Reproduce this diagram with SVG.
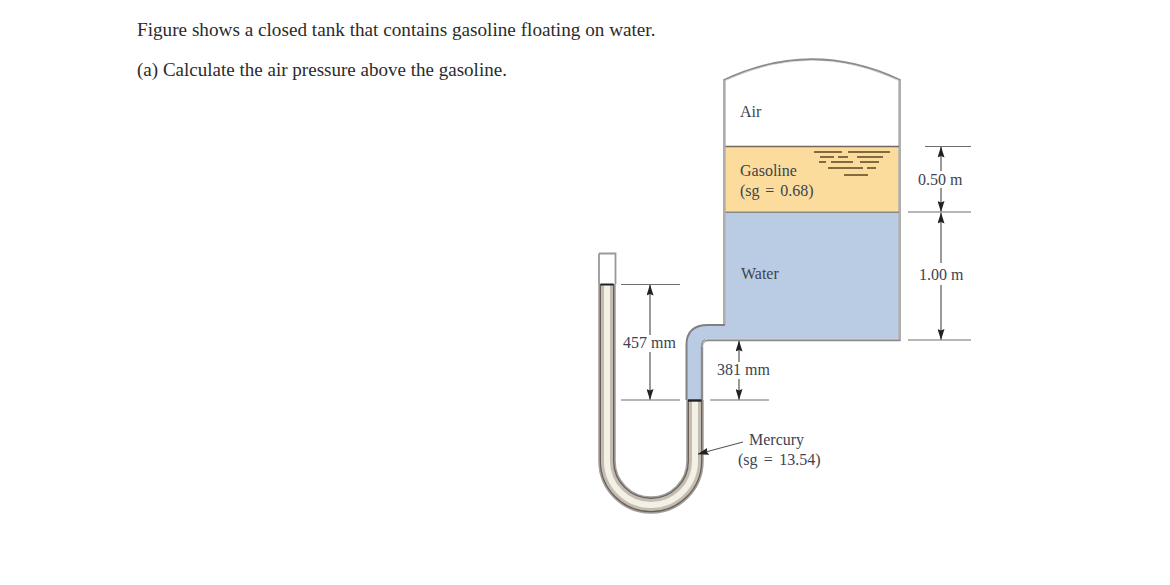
<svg xmlns="http://www.w3.org/2000/svg" width="1170" height="585" viewBox="0 0 1170 585">
<style>
.t{font-family:"Liberation Serif",serif;fill:#2b2b2b}
.q{font-size:19.2px}
.l{font-size:16px;fill:#3d4350}
.d{stroke:#6e6e6e;stroke-width:1.2;fill:none}
.a{stroke:#555;stroke-width:1.2;fill:none}
.g{stroke:#5a4522;stroke-width:1.3;fill:none}
.m{fill:none}
</style>
<defs>
<marker id="ah" viewBox="0 0 11 7" refX="10.500" refY="3.500" markerWidth="11" markerHeight="7" orient="auto" markerUnits="userSpaceOnUse"><path d="M0 0L11 3.500L0 7L1.500 3.500z" fill="#222"/></marker>
</defs>
<rect width="1170" height="585" fill="#fff"/>
<g id="problem-text">
<text class="t q" x="137" y="36">Figure shows a closed tank that contains gasoline floating on water.</text>
<text class="t" x="137" y="76" font-size="19.05">(a) Calculate the air pressure above the gasoline.</text>
</g>
<g id="tank">
<path d="M725 146.500H899V212H725z" fill="#fbdc9d"/>
<path d="M725 212H899V339H708Q702 339 702 347V400H687V345Q687 325 708 325H725z" fill="#b9cce3"/>
<path d="M724.500 325V80Q812 39 899.500 80V340H708Q702 340 702 347V400" fill="none" stroke="#8c8c8c" stroke-width="2.400"/>
<path d="M725 325V80.500Q812 40.500 899 80.500V339H708Q703 339 703 347" fill="none" stroke="#fff" stroke-width=".6"/>
<path d="M725 325H708Q686.500 325 686.500 345V400" fill="none" stroke="#808080" stroke-width="2"/>
<path d="M725.500 146.500H899" stroke="#75665c" stroke-width="1.600"/>
<path d="M725.500 212.300H899" stroke="#85878a" stroke-width="1.400"/>
<path class="g" d="M814 152H842M848 152H890M820 157H834M838 157H848M857 157H883M819 162H826M831 162H853M860 162H879M828 168H863M867 168H876M844 175H868"/>
</g>
<g id="manometer">
<path class="m" d="M607 284V461A44 44 0 0 0 695 461V400" stroke="#a0a0a0" stroke-width="17.500"/>
<path class="m" d="M607 284V461A44 44 0 0 0 695 461V400" stroke="#6b5f58" stroke-width="14.500"/>
<path class="m" d="M607 284V461A44 44 0 0 0 695 461V400" stroke="#c4bcb0" stroke-width="12"/>
<path class="m" d="M607 284V461A44 44 0 0 0 695 461V400" stroke="#f3f0e6" stroke-width="6"/>
<path d="M599 253.500H615.500V284M599 253.500V284" fill="#fff" stroke="#999" stroke-width="1.800"/>
<path d="M600.500 284.500H613.500" stroke="#222" stroke-width="2"/>
<path d="M688 400.500H701.500" stroke="#222" stroke-width="2.400"/>
</g>
<g id="connectors">
<path class="d" d="M621 284.500H680M621 400H680M710 400H769M925 146.500H971M908 212H971M908 340H971"/>
<path class="a" d="M650 335V285" marker-end="url(#ah)"/>
<path class="a" d="M650 352V399.500" marker-end="url(#ah)"/>
<path class="a" d="M739 362V341" marker-end="url(#ah)"/>
<path class="a" d="M739 379V399.500" marker-end="url(#ah)"/>
<path class="a" d="M941 171V147" marker-end="url(#ah)"/>
<path class="a" d="M941 188V211.500" marker-end="url(#ah)"/>
<path class="a" d="M941 263V213" marker-end="url(#ah)"/>
<path class="a" d="M941 285V339.500" marker-end="url(#ah)"/>
<path class="a" d="M743 442L698 454" marker-end="url(#ah)"/>
</g>
<g id="labels">
<text class="t l" x="740" y="117">Air</text>
<text class="t l" x="740" y="175.500">Gasoline</text>
<text class="t l" x="740" y="195.500" style="word-spacing:1.800px">(sg = 0.68)</text>
<text class="t l" x="741" y="278.500">Water</text>
<text class="t l" x="623" y="348">457 mm</text>
<text class="t l" x="717" y="375">381 mm</text>
<text class="t l" x="749" y="444.500">Mercury</text>
<text class="t l" x="738" y="464.500" style="word-spacing:2.300px">(sg = 13.54)</text>
<text class="t l" x="918" y="185">0.50 m</text>
<text class="t l" x="919" y="279.500">1.00 m</text>
</g>
</svg>
